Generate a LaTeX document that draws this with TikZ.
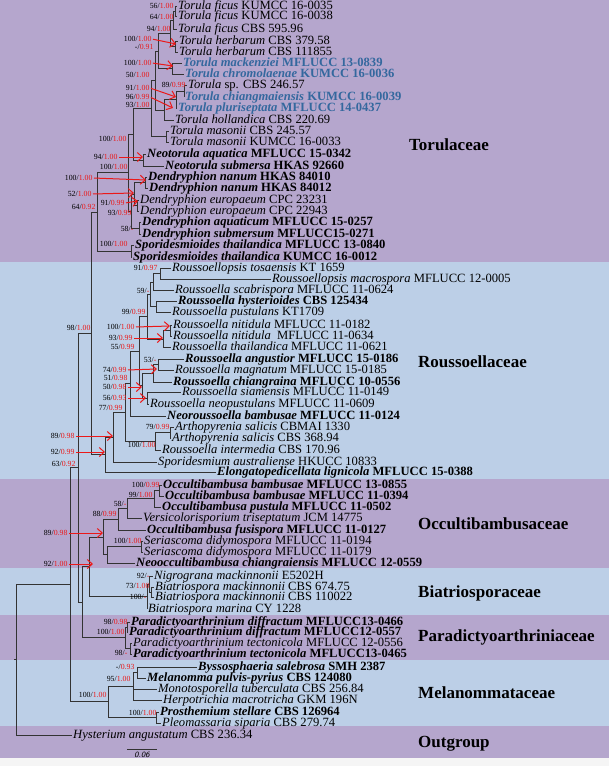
\documentclass[tikz,border=0pt]{standalone}
\usepackage{fontspec}
\setmainfont{Liberation Serif}
\usetikzlibrary{arrows.meta}
\definecolor{bandpurple}{RGB}{181,166,205}
\definecolor{bandblue}{RGB}{188,207,231}
\definecolor{newsp}{RGB}{52,104,158}
\definecolor{supred}{RGB}{235,25,25}
\newcommand{\tx}[2]{\textit{#1} #2}
\newcommand{\tb}[2]{\textbf{\textit{#1} #2}}
\newcommand{\tn}[2]{\textcolor{newsp}{\textbf{\textit{#1} #2}}}
\newcommand{\sv}[2]{#1/\textcolor{supred}{#2}}
\tikzset{
  br/.style={line width=1pt, draw=black!80},
  tax/.style={anchor=west, inner sep=1pt, font=\fontsize{12.6}{13}\selectfont, text height=9pt, text depth=2.5pt},
  sup/.style={anchor=east, inner sep=0.4pt, font=\fontsize{7.8}{8}\selectfont},
  fam/.style={anchor=west, inner sep=0pt, font=\fontsize{17}{18}\selectfont\bfseries},
  redarr/.style={-{Straight Barb[length=5pt,width=9pt]}, draw=supred, line width=1pt, shorten <=1pt},
}
\begin{document}
\begin{tikzpicture}[x=1pt,y=-1pt]
\useasboundingbox (0,0) rectangle (609,766);
%bands
\fill[bandpurple] (0,0) rectangle (609,262);
\fill[bandblue] (0,262) rectangle (609,479);
\fill[bandpurple] (0,479) rectangle (609,568);
\fill[bandblue] (0,568) rectangle (609,615);
\fill[bandpurple] (0,615) rectangle (609,660);
\fill[bandblue] (0,660) rectangle (609,726);
\fill[bandpurple] (0,726) rectangle (609,758);
\fill[black!4] (0,758) rectangle (609,766);

%Torulaceae
\node[tax] (L1) at (177,6) {\tx{Torula ficus}{KUMCC 16-0035}};
\node[tax] (L2) at (177,16.5) {\tx{Torula ficus}{KUMCC 16-0038}};
\node[tax] (L3) at (177,29) {\tx{Torula ficus}{CBS 595.96}};
\node[tax] (L4) at (178,41) {\tx{Torula herbarum}{CBS 379.58}};
\node[tax] (L5) at (178,52) {\tx{Torula herbarum}{CBS 111855}};
\node[tax] (L6) at (182,63) {\tn{Torula mackenziei}{MFLUCC 13-0839}};
\node[tax] (L7) at (184,74) {\tn{Torula chromolaenae}{KUMCC 16-0036}};
\node[tax] (L8) at (187,85) {\tx{Torula}{sp. CBS 246.57}};
\node[tax] (L9) at (184,97) {\tn{Torula chiangmaiensis}{KUMCC 16-0039}};
\node[tax] (L10) at (177,108) {\tn{Torula pluriseptata}{MFLUCC 14-0437}};
\node[tax] (L11) at (174,120) {\tx{Torula hollandica}{CBS 220.69}};
\node[tax] (L12) at (169,131) {\tx{Torula masonii}{CBS 245.57}};
\node[tax] (L13) at (169,142) {\tx{Torula masonii}{KUMCC 16-0033}};
\node[tax] (L14) at (146,154) {\tb{Neotorula aquatica}{MFLUCC 15-0342}};
\node[tax] (L15) at (164,166) {\tb{Neotorula submersa}{HKAS 92660}};
\node[tax] (L16) at (147,177) {\tb{Dendryphion nanum}{HKAS 84010}};
\node[tax] (L17) at (148,188) {\tb{Dendryphion nanum}{HKAS 84012}};
\node[tax] (L18) at (139,200) {\tx{Dendryphion europaeum}{CPC 23231}};
\node[tax] (L19) at (139,211) {\tx{Dendryphion europaeum}{CPC 22943}};
\node[tax] (L20) at (141,222) {\tb{Dendryphion aquaticum}{MFLUCC 15-0257}};
\node[tax] (L21) at (141,234) {\tb{Dendryphion submersum}{MFLUCC15-0271}};
\node[tax] (L22) at (134,245) {\tb{Sporidesmioides thailandica}{MFLUCC 13-0840}};
\node[tax] (L23) at (132,257) {\tb{Sporidesmioides thailandica}{KUMCC 16-0012}};

\coordinate (a1) at (175,11.25);
\coordinate (a2) at (173,20);
\coordinate (a3) at (175,46.5);
\coordinate (a4) at (170,33);
\coordinate (a5) at (172,68.5);
\coordinate (a6) at (158,51);
\coordinate (b1) at (184,91);
\coordinate (b2) at (176,99.5);
\coordinate (b3) at (164,110);
\coordinate (c1) at (155,80.5);
\coordinate (mas) at (166,136.5);
\coordinate (c2) at (151,108.5);
\coordinate (neo) at (143,160);
\coordinate (d1) at (133,134);
\coordinate (g1) at (145,182.5);
\coordinate (g2) at (137,205.5);
\coordinate (g3) at (134,194);
\coordinate (g4) at (139,228);
\coordinate (g5) at (131,211);
\coordinate (e1) at (128,172.5);
\coordinate (spo) at (131,251);
\coordinate (e2) at (97,212);

%Roussoellaceae
\node[tax] (R1) at (171,268) {\tx{Roussoellopsis tosaensis}{KT 1659}};
\node[tax] (R2) at (271,279) {\tx{Roussoellopsis macrospora}{MFLUCC 12-0005}};
\node[tax] (R3) at (174,290) {\tx{Roussoella scabrispora}{MFLUCC 11-0624}};
\node[tax] (R4) at (177,301) {\tb{Roussoella hysterioides}{CBS 125434}};
\node[tax] (R5) at (171,312) {\tx{Roussoella pustulans}{KT1709}};
\node[tax] (R6) at (172,325) {\tx{Roussoella nitidula}{MFLUCC 11-0182}};
\node[tax] (R7) at (172,336) {\tx{Roussoella nitidula}{\ MFLUCC 11-0634}};
\node[tax] (R8) at (171,347) {\tx{Roussoella thailandica}{MFLUCC 11-0621}};
\node[tax] (R9) at (184,359) {\tb{Roussoella angustior}{MFLUCC 15-0186}};
\node[tax] (R10) at (174,370) {\tx{Roussoella magnatum}{MFLUCC 15-0185}};
\node[tax] (R11) at (172,382) {\tb{Roussoella chiangraina}{MFLUCC 10-0556}};
\node[tax] (R12) at (181,392) {\tx{Roussoella siamensis}{MFLUCC 11-0149}};
\node[tax] (R13) at (149,404) {\tx{Roussoella neopustulans}{MFLUCC 11-0609}};
\node[tax] (R14) at (166,416) {\tb{Neoroussoella bambusae}{MFLUCC 11-0124}};
\node[tax] (R15) at (174,427) {\tx{Arthopyrenia salicis}{CBMAI 1330}};
\node[tax] (R16) at (171,438) {\tx{Arthopyrenia salicis}{CBS 368.94}};
\node[tax] (R17) at (161,450) {\tx{Roussoella intermedia}{CBS 170.96}};
\node[tax] (R18) at (157,462) {\tx{Sporidesmium australiense}{HKUCC 10833}};
\node[tax] (R19) at (216,472) {\tb{Elongatopedicellata lignicola}{MFLUCC 15-0388}};

\coordinate (r1) at (160,273.5);
\coordinate (r2) at (153,282);
\coordinate (r3) at (156,306.5);
\coordinate (r4) at (150,294);
\coordinate (n1) at (170,330.5);
\coordinate (n2) at (163,339);
\coordinate (r5) at (147,316.5);
\coordinate (m1) at (158,364.5);
\coordinate (m2) at (153,373);
\coordinate (m3) at (147,398);
\coordinate (m4) at (142,385.5);
\coordinate (r6) at (139,351);
\coordinate (r7) at (130,383.5);
\coordinate (ar1) at (170,432.5);
\coordinate (ar2) at (155,441);
\coordinate (r8) at (125,412);
\coordinate (r9) at (113,437);
\coordinate (r10) at (105,454.5);
\coordinate (h1) at (91,333);

%Occultibambusaceae
\node[tax] (O1) at (162,485) {\tb{Occultibambusa bambusae}{MFLUCC 13-0855}};
\node[tax] (O2) at (164,496) {\tb{Occultibambusa bambusae}{MFLUCC 11-0394}};
\node[tax] (O3) at (161,507) {\tb{Occultibambusa pustula}{MFLUCC 11-0502}};
\node[tax] (O4) at (142,518) {\tx{Versicolorisporium triseptatum}{JCM 14775}};
\node[tax] (O5) at (146,530) {\tb{Occultibambusa fusispora}{MFLUCC 11-0127}};
\node[tax] (O6) at (143,541) {\tx{Seriascoma didymospora}{MFLUCC 11-0194}};
\node[tax] (O7) at (143,552) {\tx{Seriascoma didymospora}{MFLUCC 11-0179}};
\node[tax] (O8) at (135,563) {\tb{Neooccultibambusa chiangraiensis}{MFLUCC 12-0559}};

\coordinate (o1) at (159,490.5);
\coordinate (o2) at (154,498.75);
\coordinate (o3) at (127,508.4);
\coordinate (o4) at (118,519.2);
\coordinate (o5) at (141,546.5);
\coordinate (o6) at (107,554.75);
\coordinate (o7) at (103,537);

%Biatriosporaceae
\node[tax] (B1) at (153,576) {\tx{Nigrograna mackinnonii}{E5202H}};
\node[tax] (B2) at (154,587) {\tx{Biatriospora mackinnonii}{CBS 674.75}};
\node[tax] (B3) at (154,597) {\tx{Biatriospora mackinnonii}{CBS 110022}};
\node[tax] (B4) at (147,609) {\tx{Biatriospora marina}{CY 1228}};

\coordinate (bi1) at (151,592);
\coordinate (bi2) at (149,584);
\coordinate (bi3) at (147,596.5);
\coordinate (o8) at (89,566.75);

%Paradictyoarthriniaceae
\node[tax] (P1) at (130,622) {\tb{Paradictyoarthrinium diffractum}{MFLUCC13-0466}};
\node[tax] (P2) at (128,632) {\tb{Paradictyoarthrinium diffractum}{MFLUCC12-0557}};
\node[tax] (P3) at (132,643) {\tx{Paradictyoarthrinium tectonicola}{MFLUCC 12-0556}};
\node[tax] (P4) at (132,654) {\tb{Paradictyoarthrinium tectonicola}{MFLUCC13-0465}};

\coordinate (pa1) at (127,627);
\coordinate (pa2) at (130,648.5);
\coordinate (pa3) at (125,637.75);
\coordinate (o9) at (82,602.25);
\coordinate (o10) at (78,467.6);

%Melanommataceae
\node[tax] (M1) at (197,667) {\tb{Byssosphaeria salebrosa}{SMH 2387}};
\node[tax] (M2) at (146,678) {\tb{Melanomma pulvis-pyrius}{CBS 124080}};
\node[tax] (M3) at (157,689) {\tx{Monotosporella tuberculata}{CBS 256.84}};
\node[tax] (M4) at (162,700) {\tx{Herpotrichia macrotricha}{GKM 196N}};
\node[tax] (M5) at (159,712) {\tb{Prosthemium stellare}{CBS 126964}};
\node[tax] (M6) at (161,723) {\tx{Pleomassaria siparia}{CBS 279.74}};

\coordinate (me1) at (137,672.5);
\coordinate (me2) at (133,686.25);
\coordinate (me3) at (156,717.5);
\coordinate (me4) at (108,701.9);
\coordinate (o11) at (70,584.75);

%Outgroup
\node[tax] (H1) at (72,735) {\tx{Hysterium angustatum}{CBS 236.34}};
\coordinate (root) at (16,659.9);

%branches to tips
\foreach \p/\c in {a1/L1,a1/L2,a2/L3,a3/L4,a3/L5,a5/L6,a5/L7,b1/L8,b1/L9,b2/L10,b3/L11,
  mas/L12,mas/L13,neo/L14,neo/L15,g1/L16,g1/L17,g2/L18,g2/L19,g4/L20,g4/L21,spo/L22,spo/L23,
  r1/R1,r1/R2,r2/R3,r3/R4,r3/R5,n1/R6,n1/R7,n2/R8,m1/R9,m1/R10,m2/R11,m3/R12,m3/R13,
  r7/R14,ar1/R15,ar1/R16,ar2/R17,r9/R18,r10/R19,
  o1/O1,o1/O2,o2/O3,o3/O4,o4/O5,o5/O6,o5/O7,o6/O8,
  bi2/B1,bi1/B2,bi1/B3,bi3/B4,pa1/P1,pa1/P2,pa2/P3,pa2/P4,
  me1/M1,me1/M2,me2/M3,me2/M4,me3/M5,me3/M6,root/H1}
  \draw[br] (\p) |- (\c.west);
%inner branches
\foreach \p/\c in {a2/a1,a4/a2,a4/a3,a6/a4,a6/a5,b2/b1,b3/b2,c1/a6,c1/b3,c2/c1,c2/mas,
  d1/c2,d1/neo,g3/g1,g3/g2,g5/g3,g5/g4,e1/d1,e1/g5,e2/e1,e2/spo,
  r2/r1,r4/r2,r4/r3,n2/n1,r5/r4,r5/n2,m2/m1,m4/m2,m4/m3,r6/r5,r6/m4,r7/r6,
  ar2/ar1,r8/r7,r8/ar2,r9/r8,r10/r9,h1/e2,h1/r10,
  o2/o1,o3/o2,o4/o3,o6/o5,o7/o4,o7/o6,bi1/bi1,bi2/bi1,bi3/bi2,o8/o7,o8/bi3,
  pa3/pa1,pa3/pa2,o9/o8,o9/pa3,o10/h1,o10/o9,
  me1/me1,me2/me1,me4/me2,me4/me3,o11/o10,o11/me4,root/o11}
  \draw[br] (\p) |- (\c);
\draw[br] (root) -- ++(-2,0);

%support values
\node[sup] (s1) at (174,6) {\sv{56}{1.00}};
\node[sup] (s2) at (174,16.5) {\sv{64}{1.00}};
\node[sup] (s3) at (171,29) {\sv{94}{1.00}};
\node[sup] (s4) at (152,39) {\sv{100}{1.00}};
\node[sup] (s5) at (154,47) {\sv{-}{0.91}};
\node[sup] (s6) at (152,63) {\sv{100}{1.00}};
\node[sup] (s7) at (150,75) {\sv{50}{1.00}};
\node[sup] (s8) at (150,88) {\sv{91}{1.00}};
\node[sup] (s9) at (186,85) {\sv{89}{0.99}};
\node[sup] (s10) at (150,97) {\sv{96}{0.99}};
\node[sup] (s11) at (150,105) {\sv{93}{1.00}};
\node[sup] (s12) at (127,139) {\sv{100}{1.00}};
\node[sup] (s13) at (118,157) {\sv{94}{1.00}};
\node[sup] (s14) at (128,167) {\sv{100}{1.00}};
\node[sup] (s15) at (93,178) {\sv{100}{1.00}};
\node[sup] (s16) at (92,194) {\sv{52}{1.00}};
\node[sup] (s17) at (125,203) {\sv{91}{0.99}};
\node[sup] (s18) at (96,207) {\sv{64}{0.92}};
\node[sup] (s19) at (132,213) {\sv{93}{0.99}};
\node[sup] (s20) at (134,229) {\sv{58}{-}};
\node[sup] (s21) at (128,244) {\sv{100}{1.00}};
\node[sup] (s22) at (158,268) {\sv{91}{0.97}};
\node[sup] (s23) at (150,291) {\sv{59}{-}};
\node[sup] (s24) at (146,312) {\sv{99}{0.99}};
\node[sup] (s25) at (135,327) {\sv{100}{1.00}};
\node[sup] (s26) at (133,338) {\sv{93}{0.99}};
\node[sup] (s27) at (135,347) {\sv{55}{0.99}};
\node[sup] (s28) at (157,360) {\sv{53}{-}};
\node[sup] (s29) at (127,370) {\sv{74}{0.99}};
\node[sup] (s30) at (128,378) {\sv{51}{0.98}};
\node[sup] (s31) at (127,387) {\sv{50}{0.98}};
\node[sup] (s32) at (127,398) {\sv{56}{0.93}};
\node[sup] (s33) at (123,408) {\sv{77}{0.99}};
\node[sup] (s34) at (170,427) {\sv{79}{0.99}};
\node[sup] (s35) at (156,445) {\sv{100}{1.00}};
\node[sup] (s36) at (91,328) {\sv{98}{1.00}};
\node[sup] (s37) at (75,436) {\sv{89}{0.98}};
\node[sup] (s38) at (75,452) {\sv{92}{0.99}};
\node[sup] (s39) at (76,464) {\sv{63}{0.92}};
\node[sup] (s40) at (160,485) {\sv{100}{0.99}};
\node[sup] (s41) at (153,495) {\sv{99}{1.00}};
\node[sup] (s42) at (127,504) {\sv{58}{-}};
\node[sup] (s43) at (117,514) {\sv{88}{0.99}};
\node[sup] (s44) at (68,533) {\sv{89}{0.98}};
\node[sup] (s45) at (142,541) {\sv{100}{1.00}};
\node[sup] (s46) at (68,564) {\sv{92}{1.00}};
\node[sup] (s47) at (150,576) {\sv{92}{-}};
\node[sup] (s48) at (150,586) {\sv{73}{1.00}};
\node[sup] (s49) at (147,597) {\sv{100}{-}};
\node[sup] (s50) at (128,622) {\sv{98}{0.98}};
\node[sup] (s51) at (125,632) {\sv{100}{1.00}};
\node[sup] (s52) at (128,653) {\sv{98}{-}};
\node[sup] (s53) at (135,667) {\sv{-}{0.93}};
\node[sup] (s54) at (131,679) {\sv{95}{1.00}};
\node[sup] (s55) at (107,695) {\sv{100}{1.00}};
\node[sup] (s56) at (157,713) {\sv{100}{1.00}};

%arrows to the nodes
\coordinate (t1) at (176,44);
\coordinate (t2) at (173,66);
\coordinate (t3) at (176,97);
\coordinate (t4) at (173,108);
\coordinate (t5) at (143,157);
\coordinate (t6) at (146,180);
\coordinate (t7) at (134,193);
\coordinate (t8) at (138,201);
\coordinate (t9) at (170,326);
\coordinate (t10) at (163,338);
\coordinate (t11) at (157,369);
\coordinate (t12) at (142,387);
\coordinate (t13) at (146,398);
\coordinate (t14) at (113,436);
\coordinate (t15) at (105,452);
\coordinate (t16) at (103,533);
\coordinate (t17) at (93,564);
\foreach \s/\t in {s4/t1,s6/t2,s8/t3,s10/t4,s13/t5,s15/t6,s16/t7,s17/t8,s25/t9,s26/t10,
  s29/t11,s31/t12,s32/t13,s37/t14,s38/t15,s44/t16,s46/t17}
  \draw[redarr] (\s.east) -- (\t);

%families
\node[fam] (f1) at (409,145) {Torulaceae};
\node[fam] (f2) at (418,362) {Roussoellaceae};
\node[fam] (f3) at (418,524) {Occultibambusaceae};
\node[fam] (f4) at (418,593) {Biatriosporaceae};
\node[fam] (f5) at (418,637) {Paradictyoarthriniaceae};
\node[fam] (f6) at (418,693) {Melanommataceae};
\node[fam] (f7) at (418,744) {Outgroup};

%scale bar
\coordinate (sb1) at (127,749);
\coordinate (sb2) at (157,749);
\draw[br] (sb1) -- (sb2) node[midway, below=3pt, inner sep=0pt, font=\fontsize{8}{8}\sffamily\itshape] {0.06};
\end{tikzpicture}
\end{document}
